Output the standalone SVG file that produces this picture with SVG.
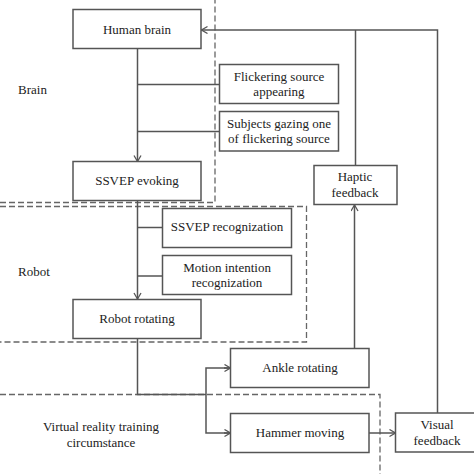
<svg xmlns="http://www.w3.org/2000/svg" width="474" height="474" viewBox="0 0 474 474">
<style>
.box{fill:#fff;stroke:#555;stroke-width:1.5}
.ln{fill:none;stroke:#555;stroke-width:1.5}
.reg{fill:none;stroke:#666;stroke-width:1.3;stroke-dasharray:6 3}
text{font-size:13px;fill:#222;text-anchor:middle}
</style>
<defs>
<marker id="arr" markerUnits="userSpaceOnUse" markerWidth="8" markerHeight="10" refX="7" refY="4" orient="auto">
<path d="M1,0.5 L7,4 L1,7.5" fill="none" stroke="#555" stroke-width="1.3"/>
</marker>
</defs>
<rect width="474" height="474" fill="#fff"/>
<g font-family="'Liberation Serif', 'DejaVu Serif', serif">
<g id="regions">
<path class="reg" d="M0,202.5 H215 V0"/>
<path class="reg" d="M0,206.5 H306.5 V342 H0"/>
<path class="reg" d="M0,394.5 H380 V474"/>
<text x="32.5" y="94">Brain</text>
<text x="34" y="275.5">Robot</text>
<text x="101" y="431">Virtual reality training</text>
<text x="101" y="447">circumstance</text>
</g>
<g id="connectors">
<line class="ln" x1="137.5" y1="48.5" x2="137.5" y2="161.5" marker-end="url(#arr)"/>
<line class="ln" x1="219.5" y1="84.5" x2="137.5" y2="84.5"/>
<line class="ln" x1="219.5" y1="131.5" x2="137.5" y2="131.5"/>
<line class="ln" x1="137.5" y1="200.5" x2="137.5" y2="299" marker-end="url(#arr)"/>
<line class="ln" x1="162.5" y1="227.5" x2="137.5" y2="227.5"/>
<line class="ln" x1="162.5" y1="276" x2="137.5" y2="276"/>
<path class="ln" d="M137.5,338.5 V394.5 H206"/>
<path class="ln" d="M230.5,368 H206 V433 H230.5"/>
<line class="ln" x1="224" y1="368" x2="230.5" y2="368" marker-end="url(#arr)"/>
<line class="ln" x1="224" y1="433" x2="230.5" y2="433" marker-end="url(#arr)"/>
<line class="ln" x1="354.5" y1="348.5" x2="354.5" y2="205" marker-end="url(#arr)"/>
<line class="ln" x1="355.5" y1="165.5" x2="355.5" y2="30"/>
<path class="ln" d="M437.5,413 V30 H201.5" marker-end="url(#arr)"/>
<line class="ln" x1="369" y1="433" x2="395.5" y2="433" marker-end="url(#arr)"/>
</g>
<g id="human-brain"><rect class="box" x="73" y="9.5" width="128" height="39"/><text x="137" y="33.5">Human brain</text></g>
<g id="flickering"><rect class="box" x="219.5" y="64.5" width="119" height="39"/><text x="279" y="81">Flickering source</text><text x="279" y="96">appearing</text></g>
<g id="gazing"><rect class="box" x="219.5" y="111.5" width="119" height="39.5"/><text x="279" y="128">Subjects gazing one</text><text x="279" y="143">of flickering source</text></g>
<g id="ssvep-evoking"><rect class="box" x="73" y="161.5" width="128" height="39"/><text x="137" y="185">SSVEP evoking</text></g>
<g id="haptic"><rect class="box" x="314" y="165.5" width="83" height="39"/><text x="355" y="181">Haptic</text><text x="355" y="197">feedback</text></g>
<g id="ssvep-recog"><rect class="box" x="162.5" y="208.5" width="129" height="39"/><text x="227" y="231">SSVEP recognization</text></g>
<g id="motion"><rect class="box" x="162.5" y="255.5" width="129" height="39"/><text x="227" y="272">Motion intention</text><text x="227" y="287">recognization</text></g>
<g id="robot-rotating"><rect class="box" x="73" y="299.5" width="128" height="39"/><text x="137" y="323">Robot rotating</text></g>
<g id="ankle"><rect class="box" x="230.5" y="348.5" width="138.5" height="39"/><text x="300" y="372">Ankle rotating</text></g>
<g id="hammer"><rect class="box" x="230.5" y="413.5" width="138.5" height="39"/><text x="300" y="437">Hammer moving</text></g>
<g id="visual"><rect class="box" x="395.5" y="413" width="84" height="39"/><text x="437" y="429">Visual</text><text x="437" y="445">feedback</text></g>
</g>
</svg>
